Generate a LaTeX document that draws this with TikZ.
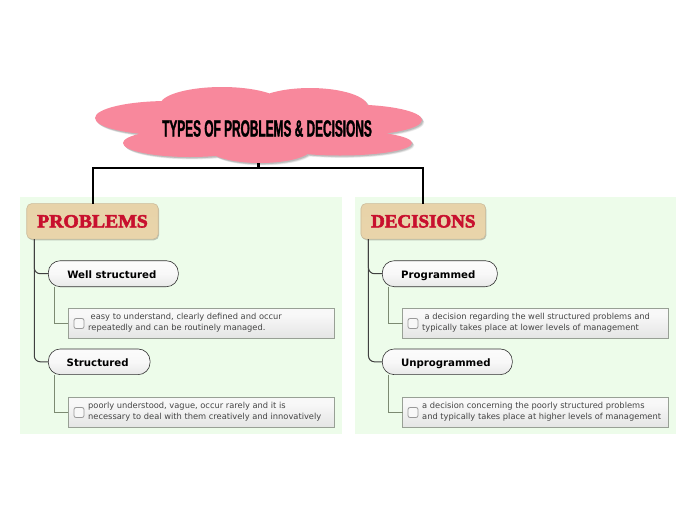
\documentclass[tikz,border=0pt]{standalone}
\usepackage{fontspec}
\usetikzlibrary{shadows,calc}
\setmainfont{DejaVu Sans}
\newfontfamily\titlefont[FakeStretch=0.505,FakeBold=1.2]{Liberation Sans Bold}
\newfontfamily\headfont[FakeBold=3,FakeStretch=1.06]{Liberation Serif Bold}
\newfontfamily\headfontB[FakeBold=3,FakeStretch=1.02]{Liberation Serif Bold}
\newfontfamily\notefont{DejaVu Sans}
\definecolor{panelbg}{HTML}{EDFCEA}
\definecolor{cloudtop}{HTML}{CF7A8B}
\definecolor{cloudmain}{HTML}{F8889C}
\definecolor{headtop}{HTML}{E6D2A8}
\definecolor{headmid}{HTML}{EAD5AB}
\definecolor{headlow}{HTML}{D9C69F}
\definecolor{headred}{HTML}{C8102E}
\definecolor{notetop}{HTML}{F8F8F8}
\definecolor{notelow}{HTML}{D8D9D8}
\definecolor{notetxt}{HTML}{444444}
\definecolor{noteline}{HTML}{98A095}
\definecolor{branch}{HTML}{7C8A72}
\pgfdeclareverticalshading{cloudshade}{100bp}{color(0bp)=(cloudmain); color(74bp)=(cloudmain); color(100bp)=(cloudtop)}
\pgfdeclareverticalshading{headshade}{100bp}{color(0bp)=(headlow); color(15bp)=(headmid); color(100bp)=(headtop)}
\pgfdeclareverticalshading{pillshade}{100bp}{color(0bp)=(notelow); color(50bp)=(notetop); color(100bp)=(white)}
\pgfdeclareverticalshading{noteshade}{100bp}{color(0bp)=(notelow); color(65bp)=(notetop); color(100bp)=(notetop)}
\tikzset{
  panel/.style={fill=panelbg,draw=none,inner sep=0pt,outer sep=0pt},
  heading/.style={draw=headlow!85!gray,line width=.6pt,rounded corners=5pt,shading=headshade,
    minimum height=35.5pt,inner sep=0pt,outer sep=0pt,
    font=\headfont\fontsize{18.6}{18.6}\selectfont,text=headred,
    drop shadow={shadow xshift=.8pt,shadow yshift=-1.2pt,fill=black,opacity=.22}},
  pill/.style={draw=black!80,line width=.6pt,rounded corners=12pt,shading=pillshade,
    inner sep=0pt,outer sep=0pt,font=\bfseries\fontsize{10.2}{11}\selectfont,text=black,
    text height=9.6pt,text depth=1pt,execute at end node={\hspace{3pt}}},
  notebox/.style={draw=noteline,line width=.9pt,shading=noteshade,
    minimum width=266pt,minimum height=30pt,inner sep=0pt,outer sep=0pt},
  notetext/.style={anchor=west,inner sep=0pt,align=left,text=notetxt,
    font=\notefont\fontsize{8.3}{11}\selectfont},
  tick/.style={draw=gray!80,line width=.8pt,rounded corners=2pt,fill=notetop,
    minimum size=10pt,inner sep=0pt,outer sep=0pt},
  trunk/.style={draw=black,line width=2.3pt},
  branchA/.style={draw=black!75,line width=1pt,rounded corners=6pt},
  branchB/.style={draw=branch,line width=1.2pt},
  lobes/.pic={
    \path[pic actions]
      (222,105) ellipse [x radius=62,y radius=18]
      (310,107) ellipse [x radius=58,y radius=19]
      (168,118) ellipse [x radius=73,y radius=17]
      (350,120) ellipse [x radius=72,y radius=15.5]
      (190,143) ellipse [x radius=67,y radius=14]
      (340,143) ellipse [x radius=72,y radius=12.5]
      (260,148) ellipse [x radius=52,y radius=15]
      (265,125) ellipse [x radius=110,y radius=28];
  }
}
\begin{document}
\begin{tikzpicture}[x=1pt,y=-1pt]
\useasboundingbox (0,0) rectangle (696,520);
\fill[white] (0,0) rectangle (696,520);
\node[panel,minimum width=322pt,minimum height=237pt] (panelL) at (181,315.5) {};
\node[panel,minimum width=321pt,minimum height=237pt] (panelR) at (515.5,315.5) {};

% cloud: soft shadow, then the body
\foreach \s/\o in {2.4/.07,1.8/.09,1.2/.12}{
  \pic[fill=black,opacity=\o] at (\s,\s) {lobes};
}
\shade[shading=cloudshade]
  (222,105) ellipse [x radius=62,y radius=18]
  (310,107) ellipse [x radius=58,y radius=19]
  (168,118) ellipse [x radius=73,y radius=17]
  (350,120) ellipse [x radius=72,y radius=15.5]
  (190,143) ellipse [x radius=67,y radius=14]
  (340,143) ellipse [x radius=72,y radius=12.5]
  (260,148) ellipse [x radius=52,y radius=15]
  (265,125) ellipse [x radius=110,y radius=28];
\node[minimum width=327pt,minimum height=76pt,inner sep=0pt,outer sep=0pt] (cloud) at (258.5,125) {};
\node[inner sep=0pt,font=\titlefont\fontsize{23.5}{23.5}\selectfont,text=black] (title) at (267,128.5) {TYPES OF PROBLEMS \& DECISIONS};

% left branch
\node[heading,minimum width=131.5pt] (prob) at (92.5,221.3) {PROBLEMS};
\node[pill,minimum width=130pt,minimum height=26pt] (ws) at (113.3,273.7) {Well structured};
\node[pill,minimum width=101.7pt,minimum height=25.7pt] (st) at (99.2,361.8) {Structured};
\node[notebox] (n1) at (201.3,323.3) {};
\node[notebox] (n2) at (201.3,412.3) {};
\node[tick] (c1) at (79,323.5) {};
\node[tick] (c2) at (79,412.5) {};
\node[notetext] (t1) at (88,323) {\hspace{2.5pt}easy to understand, clearly defined and occur\\repeatedly and can be routinely managed.};
\node[notetext] (t2) at (88,412) {poorly understood, vague, occur rarely and it is\\necessary to deal with them creatively and innovatively};

% right branch
\node[heading,minimum width=124.7pt,font=\headfontB\fontsize{18.6}{18.6}\selectfont] (dec) at (423.3,221.3) {DECISIONS};
\node[pill,minimum width=115pt,minimum height=26pt] (pr) at (439.8,273.7) {Programmed};
\node[pill,minimum width=130pt,minimum height=25.7pt] (un) at (447.3,361.8) {Unprogrammed};
\node[notebox] (n3) at (535.8,323.3) {};
\node[notebox] (n4) at (535.8,412.3) {};
\node[tick] (c3) at (413,323.5) {};
\node[tick] (c4) at (413,412.5) {};
\node[notetext] (t3) at (422,323) {\hspace{2.5pt}a decision regarding the well structured problems and\\typically takes place at lower levels of management};
\node[notetext] (t4) at (422,412) {a decision concerning the poorly structured problems\\and typically takes place at higher levels of management};

% connectors
\draw[trunk] (cloud.south) -- ++(0,5) coordinate (fork);
\draw[trunk] (prob.north -| 93,0) |- (fork) -| (dec.north);
\draw[branchA] ([xshift=7.5pt]prob.south west) |- (ws.west);
\draw[branchA] ([xshift=7.5pt]prob.south west) |- (st.west);
\draw[branchB] ([xshift=6.5pt]ws.south west) |- (n1.west);
\draw[branchB] ([xshift=6.5pt]st.south west) |- (n2.west);
\draw[branchA] ([xshift=7.5pt]dec.south west) |- (pr.west);
\draw[branchA] ([xshift=7.5pt]dec.south west) |- (un.west);
\draw[branchB] ([xshift=6.5pt]pr.south west) |- (n3.west);
\draw[branchB] ([xshift=6.5pt]un.south west) |- (n4.west);
\end{tikzpicture}
\end{document}
